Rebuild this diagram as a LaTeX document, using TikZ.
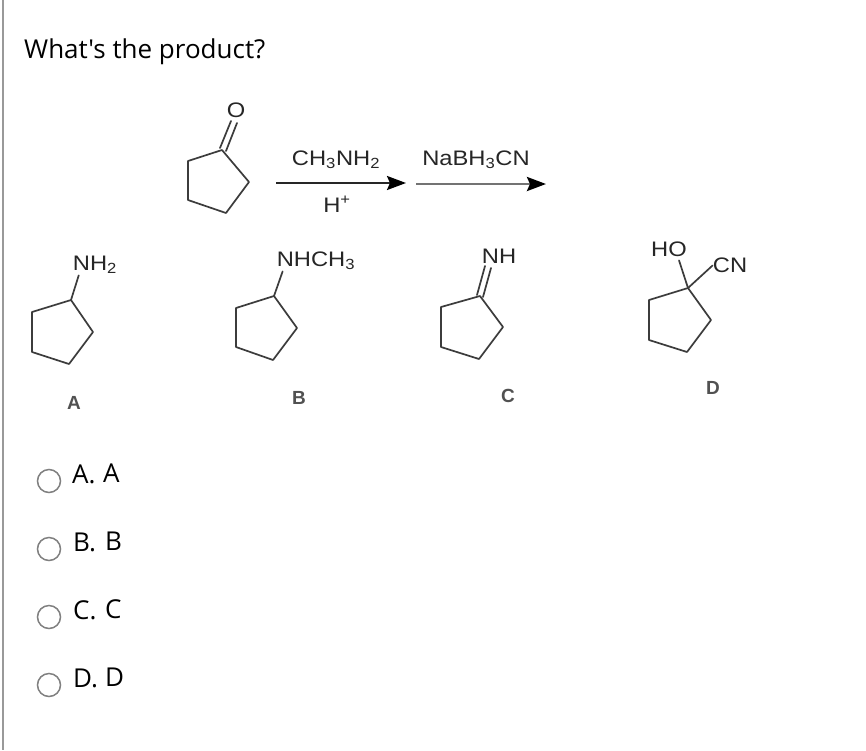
\documentclass[tikz,border=0pt]{standalone}
\usepackage{fontspec}
\newfontfamily\uifont{Open Sans}
\newfontfamily\chemfont{Liberation Sans}
\usetikzlibrary{arrows.meta,calc}
\definecolor{inkgray}{HTML}{262626}
\newcommand{\ringat}[6]{%
  \coordinate (#1a) at #2; \coordinate (#1b) at #3; \coordinate (#1c) at #4;
  \coordinate (#1d) at #5; \coordinate (#1e) at #6;
  \draw[bond] (#1a) -- (#1b) -- (#1c) -- (#1d) -- (#1e) -- cycle;}
\tikzset{
  bond/.style={draw=inkgray!90,line width=1.7pt,line join=round,line cap=round},
  chem/.style={font=\chemfont\fontsize{21}{24}\selectfont,text=inkgray,inner sep=0pt,anchor=base,xscale=1.13,transform shape},
  tag/.style={font=\chemfont\fontsize{19}{20}\selectfont\bfseries,text=inkgray!80,inner sep=0pt,anchor=base},
  opt/.style={font=\uifont\fontsize{26}{30}\selectfont,text=black,inner sep=0pt,anchor=base west},
  radio/.style={circle,draw=black!50,line width=1.5pt,minimum size=23pt,inner sep=0pt},
  rxn/.style={line width=2.2pt,-{Stealth[length=19pt,width=14pt,inset=3pt,color=black,fill=black]}}
}
\begin{document}
\begin{tikzpicture}[x=1pt,y=-1pt]
\useasboundingbox (0,0) rectangle (866,750);
\fill[white] (0,0) rectangle (866,750);
\draw[black!40,line width=2.5pt] (3,0) -- (3,750);
\node[opt] (title) at (24,58) {What's the product?};

% reactant
\ringat{k}{(222,150)}{(249,182)}{(226,213)}{(188,200)}{(188,161)}
\node[chem] (oxy) at (236,117) {O};
\coordinate (ko) at (234,122);
\draw[bond] ($(ka)+(-2,-2)$) -- ($(ko)+(-3,-1)$);
\draw[bond] ($(ka)+(4,1)$) -- ($(ko)+(3,1)$);

% reagents
\coordinate (a1s) at (276,183); \coordinate (a1e) at (406,183);
\coordinate (a2s) at (416,184); \coordinate (a2e) at (546,184);
\draw[rxn,draw=black!85] (a1s) -- (a1e);
\draw[rxn,draw=black!55,line width=2.8pt] (a2s) -- (a2e);
\node[chem] (r1) at (336,165) {CH\textsubscript{3}NH\textsubscript{2}};
\node[chem] (r2) at (476,165) {NaBH\textsubscript{3}CN};
\node[chem] (r3) at (337,212) {H\textsuperscript{+}};

% A
\ringat{p}{(71,300)}{(93,332)}{(69,364)}{(32,352)}{(32,312)}
\node[chem] (lA) at (95,270) {NH\textsubscript{2}};
\draw[bond] (pa) -- ($(lA.south west)+(6,2)$);
\node[tag] (tA) at (74,409) {A};

% B
\ringat{q}{(274,296)}{(297,328)}{(273,360)}{(236,347)}{(236,308)}
\node[chem] (lB) at (316,266) {NHCH\textsubscript{3}};
\draw[bond] (qa) -- ($(lB.south west)+(6,2)$);
\node[tag] (tB) at (299,404) {B};

% C
\ringat{s}{(480,296)}{(503,327)}{(479,359)}{(441,347)}{(441,307)}
\node[chem] (lC) at (499,263) {NH};
\coordinate (sn) at (488,267);
\draw[bond] ($(sa)+(-3,-1)$) -- ($(sn)+(-3,-1)$);
\draw[bond] ($(sa)+(3,1)$) -- ($(sn)+(3,1)$);
\node[tag] (tC) at (508,402) {C};

% D
\ringat{u}{(688,288)}{(711,320)}{(687,352)}{(649,340)}{(649,300)}
\node[chem] (lH) at (669,256) {HO};
\node[chem] (lN) at (730,272) {CN};
\draw[bond] (ua) -- ($(lH.south east)+(-8,4)$);
\draw[bond] (ua) -- ($(lN.south west)+(0,-7)$);
\node[tag] (tD) at (713,394) {D};

% options
\node[radio] (o1) at (49,481) {};
\node[radio] (o2) at (49,549) {};
\node[radio] (o3) at (49,617) {};
\node[radio] (o4) at (49,685) {};
\node[opt] (t1) at (72,483) {A.};
\node[opt] (t1b) at (103,482) {A};
\node[opt] (t2) at (73,551) {B.};
\node[opt] (t2b) at (105,550) {B};
\node[opt] (t3) at (73,619) {C.};
\node[opt] (t3b) at (105,618) {C};
\node[opt] (t4) at (73,687) {D.};
\node[opt] (t4b) at (105,686) {D};
\end{tikzpicture}
\end{document}
